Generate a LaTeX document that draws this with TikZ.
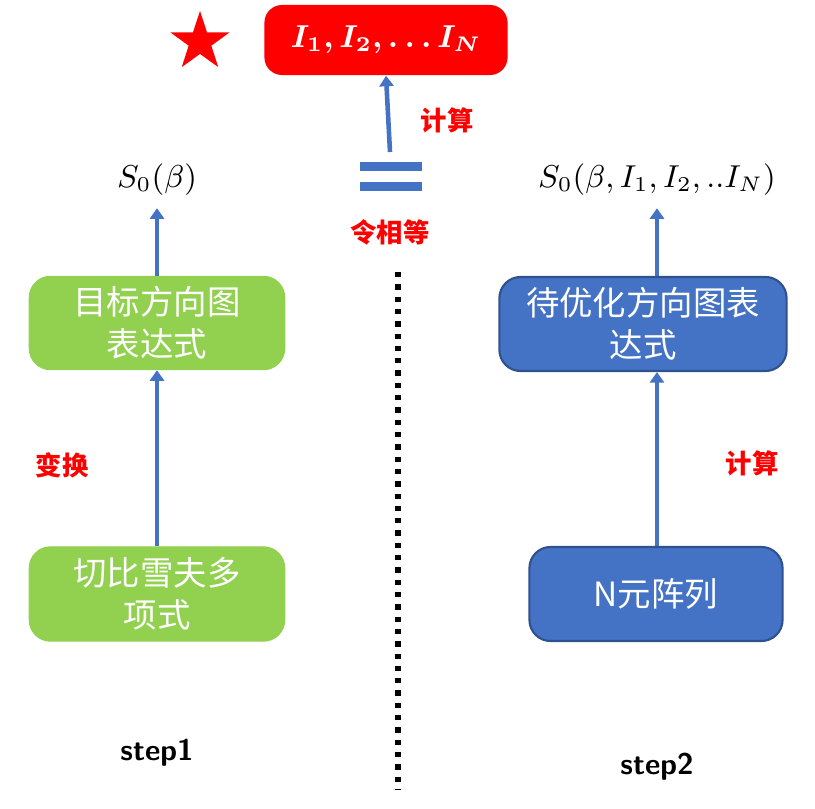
\documentclass[tikz,border=0pt]{standalone}
\usepackage{amsmath,bm}
\usepackage{fontspec}
\newfontfamily\cjk{Noto Sans CJK SC}
\usetikzlibrary{shapes.geometric,arrows.meta}
\definecolor{gfill}{HTML}{92D050}
\definecolor{bfill}{HTML}{4472C4}
\definecolor{bedge}{HTML}{2F528F}
\definecolor{redc}{HTML}{FF0000}
\begin{document}
\begin{tikzpicture}[x=0.01cm,y=-0.01cm,
  gbox/.style={rectangle,rounded corners=6pt,fill=gfill,draw=gfill,text=white,font=\cjk\fontsize{9.5}{12}\selectfont,align=center,inner sep=0pt},
  bbox/.style={rectangle,rounded corners=6pt,fill=bfill,draw=bedge,line width=0.6pt,text=white,font=\cjk\fontsize{9.5}{12}\selectfont,align=center,inner sep=0pt},
  lab/.style={text=redc,font=\cjk\bfseries\fontsize{7.5}{9}\selectfont},
  arr/.style={-{Triangle[width=4pt,length=3pt]},draw=bfill,line width=1.3pt}]
\useasboundingbox (0,0) rectangle (815,809);
\node[star,star points=5,star point ratio=2.6,fill=redc,minimum size=0.62cm,inner sep=0pt] (star) at (200,42) {};
\node[rectangle,rounded corners=5pt,fill=redc,minimum width=2.43cm,minimum height=0.7cm,text=white,inner sep=0pt] (I) at (386,40) {\fontsize{9}{11}\selectfont$\bm{I_1,I_2,\ldots I_N}$};
\coordinate (eqtop) at (390,152);
\fill[bfill] (360,162) rectangle (422,171);
\fill[bfill] (360,182) rectangle (422,191);
\draw[arr] (eqtop) -- (I.south);
\node[lab] (c1) at (447,120) {计算};
\node[lab] (eq) at (390,232) {令相等};
\draw[line width=1.5pt,dotted] (398,272) -- (398,790);
\node (s1) at (157,180) {\fontsize{9}{11}\selectfont$S_0(\beta)$};
\node[gbox,minimum width=2.55cm,minimum height=0.93cm] (g1) at (157,323) {目标方向图\\表达式};
\node[gbox,minimum width=2.55cm,minimum height=0.94cm] (g2) at (157,594) {切比雪夫多\\项式};
\draw[arr] (g1.north) -- (s1.south);
\draw[arr] (g2.north) -- (g1.south);
\node[lab] (t1) at (62,465) {变换};
\node (st1) at (157,753) {\sffamily\bfseries\fontsize{8.5}{10}\selectfont step1};
\node (s2) at (657,180) {\fontsize{9}{11}\selectfont$S_0(\beta,I_1,I_2,..I_N)$};
\node[bbox,minimum width=2.87cm,minimum height=0.94cm] (b1) at (643,324) {待优化方向图表\\达式};
\node[bbox,minimum width=2.53cm,minimum height=0.94cm] (b2) at (656,594) {N元阵列};
\draw[arr] (b1.north -| s2.south) -- (s2.south);
\draw[arr] (b2.north -| s2.south) -- (b1.south -| s2.south);
\node[lab] (c2) at (752,463) {计算};
\node (st2) at (657,767) {\sffamily\bfseries\fontsize{8.5}{10}\selectfont step2};
\end{tikzpicture}
\end{document}
